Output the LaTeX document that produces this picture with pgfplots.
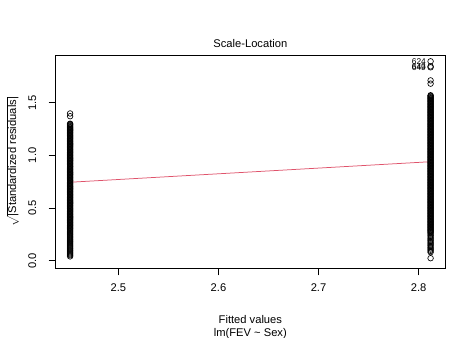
\documentclass[border=0pt]{standalone}
\usepackage{pgfplots}
\pgfplotsset{compat=1.18}
\usepackage{fontspec}
\setmainfont{Liberation Sans}
\definecolor{rred}{HTML}{DF536B}
\begin{document}
\begin{tikzpicture}
\begin{axis}[
  name=ax, at={(0,0)}, anchor=south west,
  scale only axis, width=389.3bp, height=213.3bp,
  xmin=2.4373, xmax=2.8264, ymin=-0.072, ymax=1.953,
  axis line style={black, line width=0.75bp},
  xtick={2.5,2.6,2.7,2.8}, ytick={0,0.5,1,1.5},
  xtick pos=bottom, ytick pos=left, tick align=outside,
  major tick length=7bp,
  tick style={black, line width=0.75bp},
  /pgf/number format/assume math mode=true,
  /pgf/number format/.cd, fixed, fixed zerofill, precision=1, /pgfplots/.cd,
  tick label style={font=\fontsize{11.2}{13}\selectfont},
  xticklabel style={yshift=-5bp},
  yticklabel style={xshift=-9bp, rotate=90, anchor=south},
  title={Scale-Location},
  title style={font=\fontsize{11.2}{13}\selectfont, at={(axis description cs:0.5,1)}, anchor=center, yshift=6bp},
  xlabel={Fitted values\\lm(FEV \textasciitilde{} Sex)},
  xlabel style={font=\fontsize{11.2}{13}\selectfont, align=center, at={(axis description cs:0.5,0)}, anchor=center, yshift=-58.5bp},
  ylabel={$\sqrt{\mbox{|Standardized residuals|}}$},
  ylabel style={font=\fontsize{11.2}{13}\selectfont, inner sep=0pt, at={(axis description cs:0,0.5)}, anchor=center, yshift=43bp, xshift=0bp},
  clip=false,
]
\addplot[only marks, mark=o, mark size=2.8bp, mark options={black, line width=0.65bp}] coordinates {
(2.4517,0.041) (2.4517,0.052) (2.4517,0.061) (2.4517,0.070) (2.4517,0.079) (2.4517,0.088) (2.4517,0.097) (2.4517,0.107)
(2.4517,0.116) (2.4517,0.125) (2.4517,0.134) (2.4517,0.143) (2.4517,0.152) (2.4517,0.162) (2.4517,0.171) (2.4517,0.180)
(2.4517,0.189) (2.4517,0.198) (2.4517,0.207) (2.4517,0.216) (2.4517,0.225) (2.4517,0.234) (2.4517,0.243) (2.4517,0.252)
(2.4517,0.261) (2.4517,0.270) (2.4517,0.279) (2.4517,0.288) (2.4517,0.296)
(2.4517,0.303) (2.4517,0.310) (2.4517,0.317) (2.4517,0.324) (2.4517,0.331) (2.4517,0.338) (2.4517,0.345) (2.4517,0.352)
(2.4517,0.359) (2.4517,0.366) (2.4517,0.373) (2.4517,0.380) (2.4517,0.387) (2.4517,0.394) (2.4517,0.401) (2.4517,0.408)
(2.4517,0.415) (2.4517,0.422) (2.4517,0.429) (2.4517,0.436) (2.4517,0.443) (2.4517,0.450) (2.4517,0.457) (2.4517,0.464)
(2.4517,0.471) (2.4517,0.478) (2.4517,0.485) (2.4517,0.492) (2.4517,0.499) (2.4517,0.506) (2.4517,0.513) (2.4517,0.520)
(2.4517,0.527) (2.4517,0.534) (2.4517,0.541) (2.4517,0.548) (2.4517,0.555) (2.4517,0.562) (2.4517,0.569) (2.4517,0.576)
(2.4517,0.583) (2.4517,0.590) (2.4517,0.597) (2.4517,0.604) (2.4517,0.611) (2.4517,0.618) (2.4517,0.625) (2.4517,0.632)
(2.4517,0.639) (2.4517,0.646) (2.4517,0.653) (2.4517,0.660) (2.4517,0.667) (2.4517,0.674) (2.4517,0.681) (2.4517,0.688)
(2.4517,0.695) (2.4517,0.702) (2.4517,0.709) (2.4517,0.716) (2.4517,0.723) (2.4517,0.730) (2.4517,0.737) (2.4517,0.744)
(2.4517,0.751) (2.4517,0.758) (2.4517,0.765) (2.4517,0.772) (2.4517,0.779) (2.4517,0.786) (2.4517,0.793) (2.4517,0.800)
(2.4517,0.807) (2.4517,0.814) (2.4517,0.821) (2.4517,0.828) (2.4517,0.835) (2.4517,0.842) (2.4517,0.849) (2.4517,0.856)
(2.4517,0.863) (2.4517,0.870) (2.4517,0.877) (2.4517,0.884) (2.4517,0.891) (2.4517,0.898) (2.4517,0.905) (2.4517,0.912)
(2.4517,0.919) (2.4517,0.926) (2.4517,0.933) (2.4517,0.940) (2.4517,0.947) (2.4517,0.954) (2.4517,0.961) (2.4517,0.968)
(2.4517,0.975) (2.4517,0.982) (2.4517,0.989) (2.4517,0.996) (2.4517,1.003) (2.4517,1.010) (2.4517,1.017) (2.4517,1.024)
(2.4517,1.031) (2.4517,1.038) (2.4517,1.045) (2.4517,1.052) (2.4517,1.059) (2.4517,1.066) (2.4517,1.073) (2.4517,1.080)
(2.4517,1.087) (2.4517,1.094) (2.4517,1.101) (2.4517,1.108) (2.4517,1.115) (2.4517,1.122) (2.4517,1.129) (2.4517,1.136)
(2.4517,1.143) (2.4517,1.150) (2.4517,1.157) (2.4517,1.164) (2.4517,1.171) (2.4517,1.178) (2.4517,1.185) (2.4517,1.192)
(2.4517,1.199) (2.4517,1.206) (2.4517,1.213) (2.4517,1.220) (2.4517,1.227) (2.4517,1.234) (2.4517,1.241) (2.4517,1.248)
(2.4517,1.255) (2.4517,1.262) (2.4517,1.269) (2.4517,1.276) (2.4517,1.283) (2.4517,1.290) (2.4517,1.297) (2.4517,1.301)
(2.4517,1.372) (2.4517,1.398)
(2.812,0.024) (2.812,0.081) (2.812,0.093) (2.812,0.105) (2.812,0.117) (2.812,0.129) (2.812,0.141) (2.812,0.153)
(2.812,0.165) (2.812,0.177) (2.812,0.189) (2.812,0.201) (2.812,0.213) (2.812,0.225) (2.812,0.237) (2.812,0.249)
(2.812,0.261)
(2.812,0.270) (2.812,0.277) (2.812,0.284) (2.812,0.291) (2.812,0.298) (2.812,0.305) (2.812,0.312) (2.812,0.319)
(2.812,0.326) (2.812,0.333) (2.812,0.340) (2.812,0.347) (2.812,0.354) (2.812,0.361) (2.812,0.368) (2.812,0.375)
(2.812,0.382) (2.812,0.389) (2.812,0.396) (2.812,0.403) (2.812,0.410) (2.812,0.417) (2.812,0.424) (2.812,0.431)
(2.812,0.438) (2.812,0.445) (2.812,0.452) (2.812,0.459) (2.812,0.466) (2.812,0.473) (2.812,0.480) (2.812,0.487)
(2.812,0.494) (2.812,0.501) (2.812,0.508) (2.812,0.515) (2.812,0.522) (2.812,0.529) (2.812,0.536) (2.812,0.543)
(2.812,0.550) (2.812,0.557) (2.812,0.564) (2.812,0.571) (2.812,0.578) (2.812,0.585) (2.812,0.592) (2.812,0.599)
(2.812,0.606) (2.812,0.613) (2.812,0.620) (2.812,0.627) (2.812,0.634) (2.812,0.641) (2.812,0.648) (2.812,0.655)
(2.812,0.662) (2.812,0.669) (2.812,0.676) (2.812,0.683) (2.812,0.690) (2.812,0.697) (2.812,0.704) (2.812,0.711)
(2.812,0.718) (2.812,0.725) (2.812,0.732) (2.812,0.739) (2.812,0.746) (2.812,0.753) (2.812,0.760) (2.812,0.767)
(2.812,0.774) (2.812,0.781) (2.812,0.788) (2.812,0.795) (2.812,0.802) (2.812,0.809) (2.812,0.816) (2.812,0.823)
(2.812,0.830) (2.812,0.837) (2.812,0.844) (2.812,0.851) (2.812,0.858) (2.812,0.865) (2.812,0.872) (2.812,0.879)
(2.812,0.886) (2.812,0.893) (2.812,0.900) (2.812,0.907) (2.812,0.914) (2.812,0.921) (2.812,0.928) (2.812,0.935)
(2.812,0.942) (2.812,0.949) (2.812,0.956) (2.812,0.963) (2.812,0.970) (2.812,0.977) (2.812,0.984) (2.812,0.991)
(2.812,0.998) (2.812,1.005) (2.812,1.012) (2.812,1.019) (2.812,1.026) (2.812,1.033) (2.812,1.040) (2.812,1.047)
(2.812,1.054) (2.812,1.061) (2.812,1.068) (2.812,1.075) (2.812,1.082) (2.812,1.089) (2.812,1.096) (2.812,1.103)
(2.812,1.110) (2.812,1.117) (2.812,1.124) (2.812,1.131) (2.812,1.138) (2.812,1.145) (2.812,1.152) (2.812,1.159)
(2.812,1.166) (2.812,1.173) (2.812,1.180) (2.812,1.187) (2.812,1.194) (2.812,1.201) (2.812,1.208) (2.812,1.215)
(2.812,1.222) (2.812,1.229) (2.812,1.236) (2.812,1.243) (2.812,1.250) (2.812,1.257) (2.812,1.264) (2.812,1.271)
(2.812,1.278) (2.812,1.285) (2.812,1.292) (2.812,1.299) (2.812,1.306) (2.812,1.313) (2.812,1.320) (2.812,1.327)
(2.812,1.334) (2.812,1.341) (2.812,1.348) (2.812,1.355) (2.812,1.362) (2.812,1.369) (2.812,1.376) (2.812,1.383)
(2.812,1.390) (2.812,1.397) (2.812,1.404) (2.812,1.411) (2.812,1.418) (2.812,1.425) (2.812,1.432) (2.812,1.439)
(2.812,1.446) (2.812,1.453) (2.812,1.460) (2.812,1.467) (2.812,1.474) (2.812,1.481) (2.812,1.488) (2.812,1.495)
(2.812,1.502) (2.812,1.509) (2.812,1.516) (2.812,1.523) (2.812,1.530) (2.812,1.537) (2.812,1.544) (2.812,1.551)
(2.812,1.558) (2.812,1.565) (2.812,1.571)
(2.812,1.681) (2.812,1.712) (2.812,1.836) (2.812,1.845) (2.812,1.893)
};
\addplot[rred, line width=0.75bp] coordinates {(2.4517,0.745) (2.812,0.940)};
\node[font=\fontsize{8.4}{9}\selectfont, anchor=east, inner sep=0pt] at (axis cs:2.8075,1.893) {624};
\node[font=\fontsize{8.4}{9}\selectfont, anchor=east, inner sep=0pt] at (axis cs:2.8075,1.845) {643};
\node[font=\fontsize{8.4}{9}\selectfont, anchor=east, inner sep=0pt] at (axis cs:2.8075,1.836) {649};
\end{axis}
\pgfresetboundingbox
\useasboundingbox (-55.7bp,-69.7bp) rectangle (418.3bp,268.3bp);
\end{tikzpicture}
\end{document}
